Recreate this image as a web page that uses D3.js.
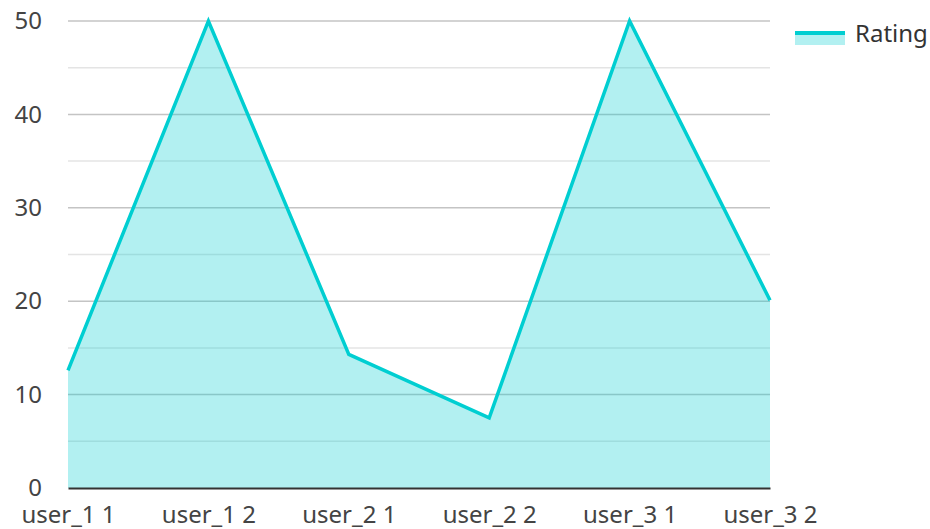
<!DOCTYPE html>
<html>
<head>
<meta charset="utf-8">
<script src="https://cdn.jsdelivr.net/npm/d3@7"></script>
<style>
  body { margin: 0; background: #fff; }
  text { font-family: "Noto Sans", sans-serif; }
</style>
</head>
<body>
<div id="chart"></div>
<script>
// Chart data
const categories = ["user_1 1", "user_1 2", "user_2 1", "user_2 2", "user_3 1", "user_3 2"]
const ratings = [12.6, 50, 14.3, 7.5, 50, 20.1]
const seriesName = "Rating"
const majorTicks = [0, 10, 20, 30, 40, 50]
const minorTicks = [5, 15, 25, 35, 45]

const svgWidth = 930
const svgHeight = 529

let margin = { top: 21, right: 160, bottom: 41, left: 68 }
let width = 770 - margin.left
let height = 488 - margin.top

let svg = d3.select("#chart")
  .append("svg")
  .attr("width", svgWidth)
  .attr("height", svgHeight)

let chartGroup = svg.append("g")
  .attr("transform", `translate(${margin.left}, ${margin.top})`)

let xScale = d3.scalePoint()
  .domain(categories)
  .range([0, width])

let yScale = d3.scaleLinear()
  .domain([0, 50])
  .range([height, 0])

// minor gridlines
chartGroup.append("g")
  .selectAll("line")
  .data(minorTicks)
  .enter()
  .append("line")
  .attr("x1", 0)
  .attr("x2", width)
  .attr("y1", d => yScale(d))
  .attr("y2", d => yScale(d))
  .attr("stroke", "#e4e4e4")
  .attr("stroke-width", 1.5)

// major gridlines
chartGroup.append("g")
  .selectAll("line")
  .data(majorTicks.filter(d => d > 0))
  .enter()
  .append("line")
  .attr("x1", 0)
  .attr("x2", width)
  .attr("y1", d => yScale(d))
  .attr("y2", d => yScale(d))
  .attr("stroke", "#c4c4c4")
  .attr("stroke-width", 1.5)

let area = d3.area()
  .x((d, i) => xScale(categories[i]))
  .y0(yScale(0))
  .y1(d => yScale(d))

let line = d3.line()
  .x((d, i) => xScale(categories[i]))
  .y(d => yScale(d))

chartGroup.append("path")
  .datum(ratings)
  .attr("d", area)
  .attr("fill", "#00ced1")
  .attr("fill-opacity", 0.3)

chartGroup.append("path")
  .datum(ratings)
  .attr("d", line)
  .attr("fill", "none")
  .attr("stroke", "#00ced1")
  .attr("stroke-width", 3.5)
  .attr("stroke-linejoin", "miter")

// axes
let bottomAxis = d3.axisBottom(xScale).tickSize(0)
let xAxis = chartGroup.append("g")
  .attr("transform", `translate(0, ${height})`)
  .call(bottomAxis)
xAxis.select(".domain").attr("stroke", "#333").attr("stroke-width", 2)
xAxis.selectAll("text")
  .attr("fill", "#444")
  .style("font-size", "24px")
  .attr("y", 35)
  .attr("dy", 0)

let leftAxis = d3.axisLeft(yScale).tickValues(majorTicks).tickSize(0).tickPadding(26)
let yAxis = chartGroup.append("g").call(leftAxis)
yAxis.select(".domain").remove()
yAxis.selectAll("text")
  .attr("fill", "#444")
  .style("font-size", "24px")

// legend
let legend = svg.append("g").attr("transform", "translate(795, 31)")
legend.append("rect")
  .attr("x", 0)
  .attr("y", 0)
  .attr("width", 50)
  .attr("height", 14)
  .attr("fill", "#00ced1")
  .attr("fill-opacity", 0.3)
legend.append("line")
  .attr("x1", 0)
  .attr("x2", 50)
  .attr("y1", 2)
  .attr("y2", 2)
  .attr("stroke", "#00ced1")
  .attr("stroke-width", 4)
legend.append("text")
  .attr("x", 60)
  .attr("y", 11)
  .attr("fill", "#333")
  .style("font-size", "24px")
  .text(seriesName)
</script>
</body>
</html>
